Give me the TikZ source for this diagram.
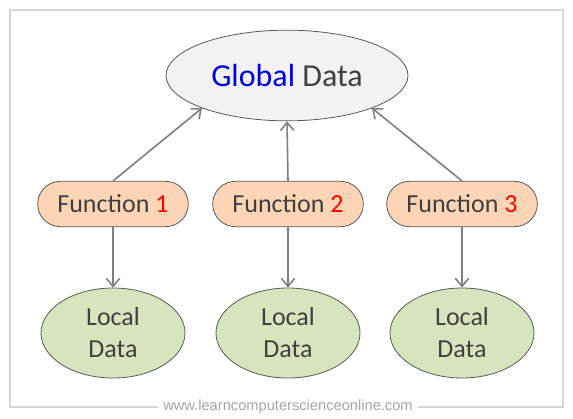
\documentclass[tikz,border=0pt]{standalone}
\usepackage{fontspec}
\setmainfont{Carlito}
\newfontfamily\webfont{Liberation Sans}
\usetikzlibrary{shapes.geometric,arrows.meta}
\definecolor{txtgray}{HTML}{404040}
\definecolor{edgegray}{HTML}{595959}
\definecolor{arrowgray}{HTML}{7F7F7F}
\definecolor{framegray}{HTML}{D6D6D6}
\definecolor{webgray}{HTML}{A6A6A6}
\definecolor{globalfill}{HTML}{F2F2F2}
\definecolor{funcfill}{HTML}{FBD5B5}
\definecolor{localfill}{HTML}{D7E4BD}
\definecolor{globalblue}{HTML}{0000E6}
\definecolor{numred}{HTML}{FF0000}
\begin{document}
\begin{tikzpicture}[x=0.75pt, y=-0.75pt,
  gdata/.style={ellipse, draw=edgegray, line width=0.6pt, fill=globalfill, minimum width=181.5pt, minimum height=68pt, inner sep=0pt, text=txtgray, font=\fontsize{24}{29}\selectfont},
  func/.style={rectangle, rounded corners=17pt, draw=edgegray, line width=0.6pt, fill=funcfill, minimum width=113pt, minimum height=34pt, inner sep=0pt, text=txtgray, font=\fontsize{19.5}{24}\selectfont},
  ldata/.style={ellipse, draw=edgegray, line width=0.6pt, fill=localfill, minimum width=108pt, minimum height=67.5pt, inner sep=0pt, align=center, text=txtgray, font=\fontsize{19.5}{24}\selectfont},
  link/.style={draw=arrowgray, line width=1.2pt, -{Straight Barb[length=6pt,width=10pt]}}]
\useasboundingbox (0,0) rectangle (573,418);
\draw [framegray, line width=0.8pt] (10,10) rectangle (563,407);
\node [fill=white, inner xsep=4pt, inner ysep=1pt, text=webgray, font=\webfont\fontsize{11}{13}\selectfont] (web) at (288,407) {www.learncomputerscienceonline.com};

\node [gdata] (gd) at (287,75.5) {\textcolor{globalblue}{Global} Data};

\node [func] (f1) at (113,204) {Function \textcolor{numred}{1}};
\node [func] (f2) at (288,204) {Function \textcolor{numred}{2}};
\node [func] (f3) at (462,204) {Function \textcolor{numred}{3}};

\node [ldata] (ld1) at (113,333) {Local\\Data};
\node [ldata] (ld2) at (288,333) {Local\\Data};
\node [ldata] (ld3) at (462,333) {Local\\Data};

\draw [link] (f1.north) -- (gd.201);
\draw [link] (f2.north) -- (gd.south);
\draw [link] (f3.north) -- (gd.339);

\draw [link] (f1.south) -- (ld1.north);
\draw [link] (f2.south) -- (ld2.north);
\draw [link] (f3.south) -- (ld3.north);
\end{tikzpicture}
\end{document}
